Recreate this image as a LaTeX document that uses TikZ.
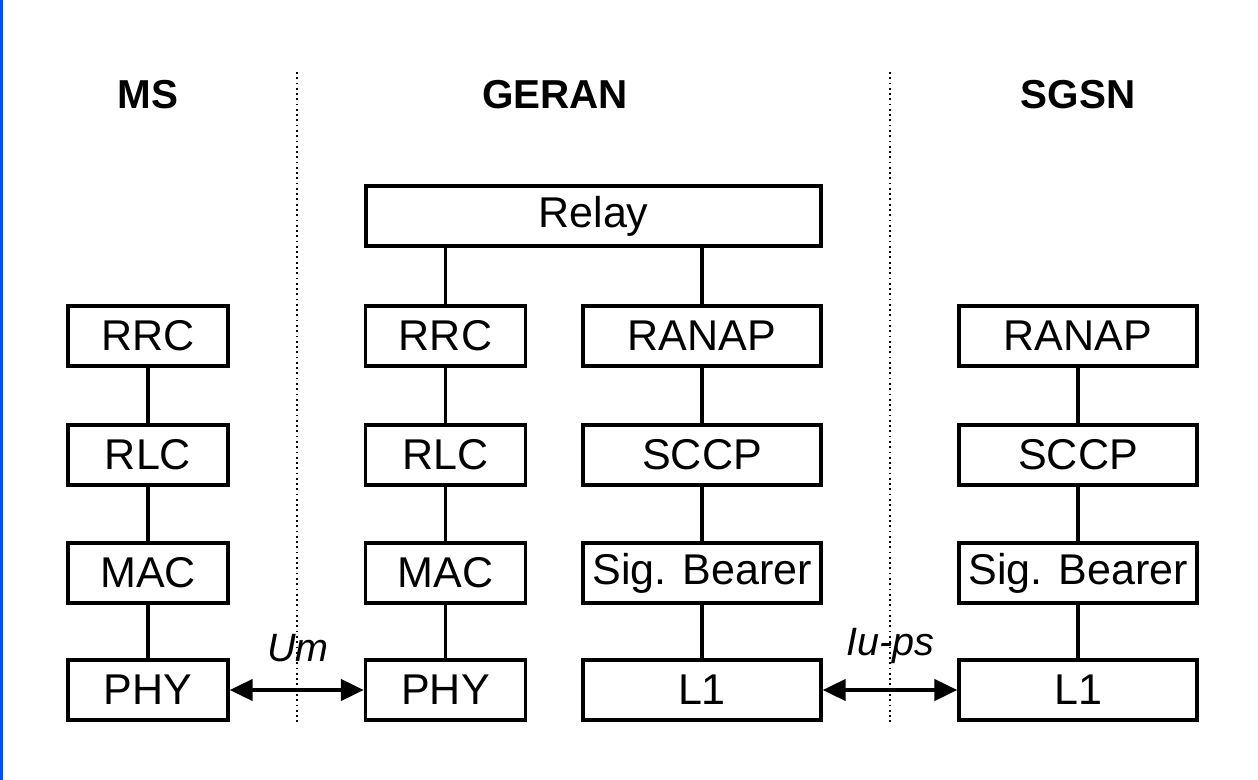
\documentclass[tikz,border=0pt]{standalone}
\usepackage{fontspec}
\setmainfont{Liberation Sans}
\usetikzlibrary{arrows.meta}
\begin{document}
\begin{tikzpicture}[x=0.02cm,y=-0.02cm,
  box/.style={draw,line width=2pt,inner sep=0pt,minimum height=1.2cm,font=\fontsize{24.5}{26}\selectfont},
  sb/.style={box,minimum width=3.2cm},
  wb/.style={box,minimum width=4.76cm},
  ttl/.style={font=\bfseries\fontsize{23}{26}\selectfont},
  lbl/.style={font=\itshape\fontsize{22.5}{25}\selectfont},
  lnk/.style={line width=2pt},
  dot/.style={line width=1pt,dotted},
  arr/.style={line width=2.2pt,{Triangle[length=13pt,width=12pt]}-{Triangle[length=13pt,width=12pt]}}]
\useasboundingbox (0,0) rectangle (1258,780);
\fill[blue!70!cyan] (0,0) rectangle (3,780);
% titles
\node[ttl] (tms) at (148,95) {MS};
\node[ttl] (tge) at (555,95) {GERAN};
\node[ttl] (tsg) at (1078,95) {SGSN};
% dotted separators
\coordinate (d1a) at (297,72); \coordinate (d1b) at (297,722);
\coordinate (d2a) at (890,72); \coordinate (d2b) at (890,722);
\draw[dot] (d1a) -- (d1b);
\draw[dot] (d2a) -- (d2b);
% MS
\node[sb] (mrrc) at (148,336) {RRC};
\node[sb] (mrlc) at (148,455) {RLC};
\node[sb] (mmac) at (148,573) {MAC};
\node[sb] (mphy) at (148,690) {PHY};
% GERAN
\node[box,minimum width=9.1cm] (relay) at (593.5,216) {Relay};
\node[sb] (grrc) at (445.5,336) {RRC};
\node[sb] (grlc) at (445.5,455) {RLC};
\node[sb] (gmac) at (445.5,573) {MAC};
\node[sb] (gphy) at (445.5,690) {PHY};
\node[wb] (granap) at (702,336) {RANAP};
\node[wb] (gsccp) at (702,455) {SCCP};
\node[wb] (gsig) at (702,573) {Sig. Bearer};
\node[wb] (gl1) at (702,690) {L1};
% SGSN
\node[wb] (sranap) at (1078,336) {RANAP};
\node[wb] (ssccp) at (1078,455) {SCCP};
\node[wb] (ssig) at (1078,573) {Sig. Bearer};
\node[wb] (sl1) at (1078,690) {L1};
% links
\draw[lnk] (mrrc) -- (mrlc) (mrlc) -- (mmac) (mmac) -- (mphy);
\draw[lnk] (grrc) -- (grlc) (grlc) -- (gmac) (gmac) -- (gphy);
\draw[lnk] (granap) -- (gsccp) (gsccp) -- (gsig) (gsig) -- (gl1);
\draw[lnk] (sranap) -- (ssccp) (ssccp) -- (ssig) (ssig) -- (sl1);
\draw[lnk] (grrc.north) -- (grrc.north |- relay.south);
\draw[lnk] (granap.north) -- (granap.north |- relay.south);
% interfaces
\draw[arr] (mphy) -- (gphy);
\draw[arr] (gl1) -- (sl1);
\node[lbl] (um) at (298,648) {Um};
\node[lbl] (iu) at (890,646) {Iu-ps};
\end{tikzpicture}
\end{document}
